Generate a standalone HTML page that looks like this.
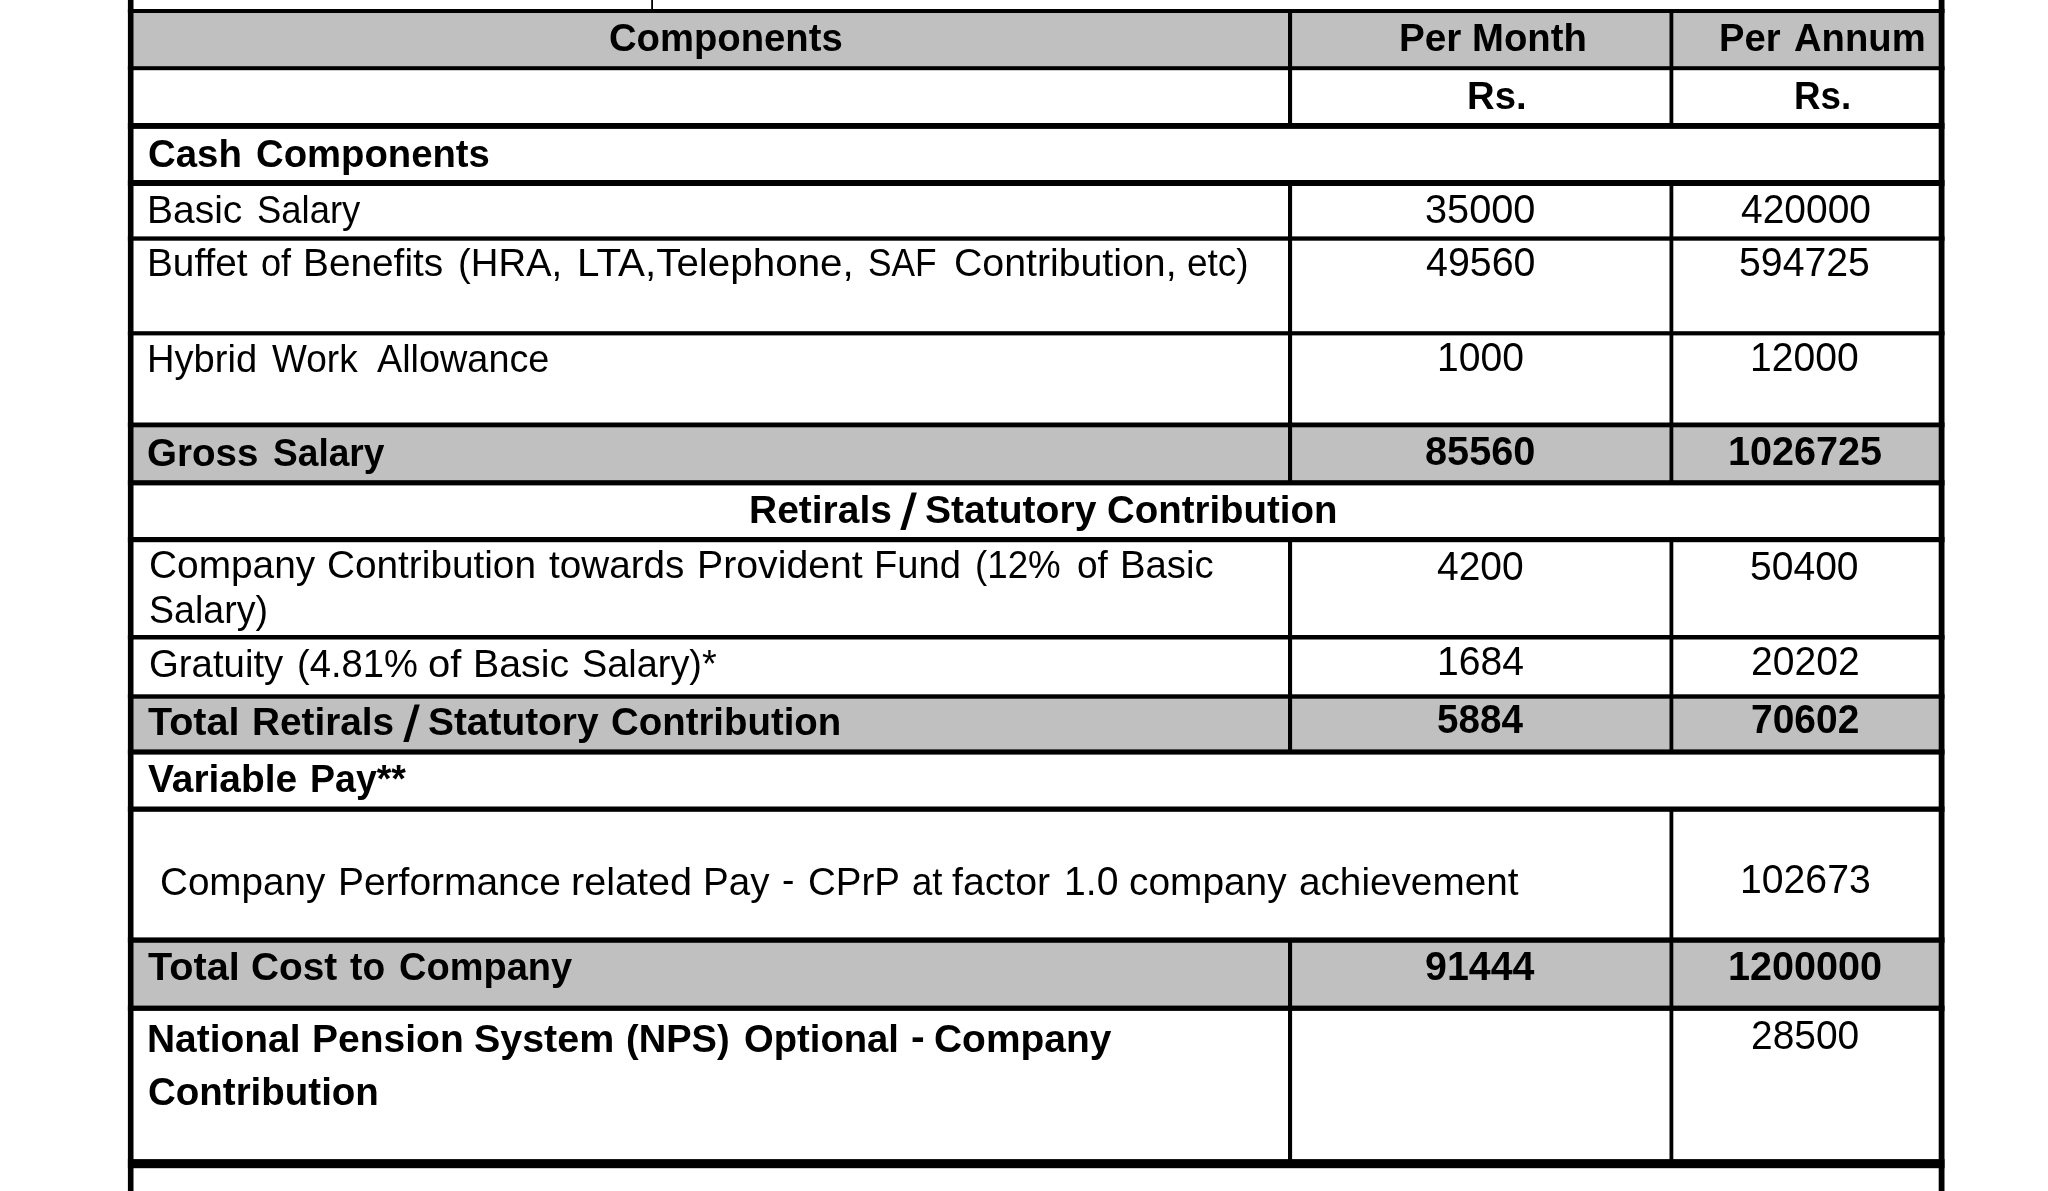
<!DOCTYPE html>
<html><head><meta charset="utf-8"><title>Salary Components</title>
<style>
html,body{margin:0;padding:0;background:#fff;}
body{width:2048px;height:1191px;position:relative;overflow:hidden;font-family:"Liberation Sans",sans-serif;color:#000;}
#page{position:absolute;left:0;top:0;width:2048px;height:1191px;background:#fff;filter:grayscale(1);}
#g{position:absolute;left:0;top:0;}
#t span{position:absolute;white-space:pre;font-size:39px;line-height:39px;height:39px;transform-origin:0 33.01px;}
#t b{font-weight:bold;}
</style></head><body>

<div id="page">
<svg id="g" width="2048" height="1191" viewBox="0 0 2048 1191">
<rect x="132.50" y="12.00" width="1807.20" height="55.00" fill="#c0c0c0"/>
<rect x="132.50" y="427.00" width="1807.20" height="54.00" fill="#c0c0c0"/>
<rect x="132.50" y="698.00" width="1807.20" height="52.00" fill="#c0c0c0"/>
<rect x="132.50" y="942.50" width="1807.20" height="63.50" fill="#c0c0c0"/>
<rect x="127.90" y="9.00" width="1816.60" height="4.00" fill="#000"/>
<rect x="127.90" y="66.20" width="1816.60" height="4.00" fill="#000"/>
<rect x="127.90" y="123.00" width="1816.60" height="5.90" fill="#000"/>
<rect x="127.90" y="180.00" width="1816.60" height="6.00" fill="#000"/>
<rect x="127.90" y="236.40" width="1816.60" height="4.30" fill="#000"/>
<rect x="127.90" y="331.20" width="1816.60" height="4.20" fill="#000"/>
<rect x="127.90" y="422.50" width="1816.60" height="4.80" fill="#000"/>
<rect x="127.90" y="480.20" width="1816.60" height="5.20" fill="#000"/>
<rect x="127.90" y="537.00" width="1816.60" height="5.20" fill="#000"/>
<rect x="127.90" y="635.00" width="1816.60" height="4.50" fill="#000"/>
<rect x="127.90" y="694.30" width="1816.60" height="4.40" fill="#000"/>
<rect x="127.90" y="749.40" width="1816.60" height="5.20" fill="#000"/>
<rect x="127.90" y="806.50" width="1816.60" height="5.30" fill="#000"/>
<rect x="127.90" y="937.40" width="1816.60" height="5.40" fill="#000"/>
<rect x="127.90" y="1005.60" width="1816.60" height="5.30" fill="#000"/>
<rect x="127.90" y="1159.10" width="1816.60" height="9.10" fill="#000"/>
<rect x="127.90" y="0.00" width="5.60" height="1191.00" fill="#000"/>
<rect x="1938.70" y="0.00" width="5.80" height="1191.00" fill="#000"/>
<rect x="651.20" y="0.00" width="1.80" height="10.00" fill="#000"/>
<rect x="1288.00" y="9.00" width="4.10" height="115.00" fill="#000"/>
<rect x="1288.00" y="184.00" width="4.10" height="298.00" fill="#000"/>
<rect x="1288.00" y="540.00" width="4.10" height="211.00" fill="#000"/>
<rect x="1288.00" y="941.00" width="4.10" height="221.00" fill="#000"/>
<rect x="1669.50" y="9.00" width="3.80" height="115.00" fill="#000"/>
<rect x="1669.50" y="184.00" width="3.80" height="298.00" fill="#000"/>
<rect x="1669.50" y="540.00" width="3.80" height="211.00" fill="#000"/>
<rect x="1669.50" y="810.00" width="3.80" height="352.00" fill="#000"/>
</svg>
<div id="t">
<span style="left:608.52px;top:18.00px;transform:scale(0.9808,1.015)"><b>Components</b></span>
<span style="left:1398.62px;top:18.00px;transform:scale(0.9917,1.015)"><b>Per</b></span>
<span style="left:1472.04px;top:18.00px;transform:scale(0.9813,1.015)"><b>Month</b></span>
<span style="left:1718.64px;top:18.00px;transform:scale(0.9785,1.015)"><b>Per</b></span>
<span style="left:1794.00px;top:18.00px;transform:scale(0.9801,1.015)"><b>Annum</b></span>
<span style="left:1466.94px;top:76.00px;transform:scale(0.9815,1.015)"><b>Rs.</b></span>
<span style="left:1793.61px;top:76.00px;transform:scale(0.9428,1.015)"><b>Rs.</b></span>
<span style="left:147.62px;top:134.00px;transform:scale(0.9844,1.015)"><b>Cash</b></span>
<span style="left:255.62px;top:134.00px;transform:scale(0.9811,1.015)"><b>Components</b></span>
<span style="left:147.10px;top:190.00px;transform:scale(0.9993,1.015)">Basic</span>
<span style="left:257.17px;top:190.00px;transform:scale(0.9342,1.015)">Salary</span>
<span style="left:1424.68px;top:190.00px;transform:scale(1.0182,1.035)">35000</span>
<span style="left:1740.50px;top:190.00px;transform:scale(0.9985,1.035)">420000</span>
<span style="left:147.22px;top:243.00px;transform:scale(0.9943,1.015)">Buffet</span>
<span style="left:260.98px;top:243.00px;transform:scale(0.9246,1.015)">of</span>
<span style="left:302.82px;top:243.00px;transform:scale(0.9948,1.015)">Benefits</span>
<span style="left:457.54px;top:243.00px;transform:scale(0.9819,1.015)">(HRA,</span>
<span style="left:576.70px;top:243.00px;transform:scale(1.0349,1.015)">LTA,Telephone,</span>
<span style="left:867.69px;top:243.00px;transform:scale(0.9051,1.015)">SAF</span>
<span style="left:954.49px;top:243.00px;transform:scale(1.0065,1.015)">Contribution,</span>
<span style="left:1186.95px;top:243.00px;transform:scale(0.9480,1.015)">etc)</span>
<span style="left:1425.70px;top:243.00px;transform:scale(1.0087,1.035)">49560</span>
<span style="left:1739.49px;top:243.00px;transform:scale(1.0062,1.035)">594725</span>
<span style="left:147.47px;top:339.00px;transform:scale(0.9777,1.015)">Hybrid</span>
<span style="left:272.40px;top:339.00px;transform:scale(0.9484,1.015)">Work</span>
<span style="left:376.80px;top:339.00px;transform:scale(0.9695,1.015)">Allowance</span>
<span style="left:1436.50px;top:338.00px;transform:scale(1.0015,1.035)">1000</span>
<span style="left:1750.00px;top:338.00px;transform:scale(1.0023,1.035)">12000</span>
<span style="left:147.31px;top:433.00px;transform:scale(0.9881,1.015)"><b>Gross</b></span>
<span style="left:273.05px;top:433.00px;transform:scale(0.9518,1.015)"><b>Salary</b></span>
<span style="left:1424.68px;top:432.00px;transform:scale(1.0182,1.035)"><b>85560</b></span>
<span style="left:1727.67px;top:432.00px;transform:scale(1.0152,1.035)"><b>1026725</b></span>
<span style="left:749.30px;top:490.00px;transform:scale(0.9987,1.015)"><b>Retirals</b></span>
<span style="left:899.93px;top:496.00px;transform-origin:0 33.01px;transform:skewX(-7.4deg) scale(1.155,1.290)"><b>/</b></span>
<span style="left:925.10px;top:490.00px;transform:scale(1.0012,1.015)"><b>Statutory</b></span>
<span style="left:1106.81px;top:490.00px;transform:scale(0.9853,1.015)"><b>Contribution</b></span>
<span style="left:149.10px;top:545.00px;transform:scale(0.9957,1.015)">Company</span>
<span style="left:327.31px;top:545.00px;transform:scale(0.9937,1.015)">Contribution</span>
<span style="left:549.30px;top:545.00px;transform:scale(0.9915,1.015)">towards</span>
<span style="left:696.98px;top:545.00px;transform:scale(1.0060,1.015)">Provident</span>
<span style="left:873.97px;top:545.00px;transform:scale(0.9774,1.015)">Fund</span>
<span style="left:974.92px;top:545.00px;transform:scale(0.9415,1.015)">(12%</span>
<span style="left:1077.35px;top:545.00px;transform:scale(0.9467,1.015)">of</span>
<span style="left:1120.35px;top:545.00px;transform:scale(0.9819,1.015)">Basic</span>
<span style="left:149.14px;top:590.00px;transform:scale(0.9631,1.015)">Salary)</span>
<span style="left:1436.70px;top:547.00px;transform:scale(0.9992,1.035)">4200</span>
<span style="left:1750.30px;top:547.00px;transform:scale(1.0013,1.035)">50400</span>
<span style="left:149.12px;top:644.00px;transform:scale(0.9835,1.015)">Gratuity</span>
<span style="left:296.54px;top:644.00px;transform:scale(0.9777,1.015)">(4.81%</span>
<span style="left:428.28px;top:644.00px;transform:scale(1.0224,1.015)">of</span>
<span style="left:473.28px;top:644.00px;transform:scale(1.0069,1.015)">Basic</span>
<span style="left:581.53px;top:644.00px;transform:scale(0.9707,1.015)">Salary)*</span>
<span style="left:1436.50px;top:642.00px;transform:scale(1.0015,1.035)">1684</span>
<span style="left:1751.00px;top:642.00px;transform:scale(1.0023,1.035)">20202</span>
<span style="left:147.90px;top:702.00px;transform:scale(1.0133,1.015)"><b>Total</b></span>
<span style="left:251.71px;top:702.00px;transform:scale(0.9937,1.015)"><b>Retirals</b></span>
<span style="left:403.03px;top:708.00px;transform-origin:0 33.01px;transform:skewX(-7.4deg) scale(1.155,1.290)"><b>/</b></span>
<span style="left:427.60px;top:702.00px;transform:scale(0.9966,1.015)"><b>Statutory</b></span>
<span style="left:611.42px;top:702.00px;transform:scale(0.9844,1.015)"><b>Contribution</b></span>
<span style="left:1436.51px;top:700.00px;transform:scale(0.9899,1.035)"><b>5884</b></span>
<span style="left:1751.30px;top:700.00px;transform:scale(0.9985,1.035)"><b>70602</b></span>
<span style="left:147.90px;top:759.00px;transform:scale(0.9966,1.015)"><b>Variable</b></span>
<span style="left:310.48px;top:759.00px;transform:scale(0.9618,1.015)"><b>Pay**</b></span>
<span style="left:159.61px;top:862.00px;transform:scale(0.9903,1.015)">Company</span>
<span style="left:337.51px;top:862.00px;transform:scale(0.9979,1.015)">Performance</span>
<span style="left:570.67px;top:862.00px;transform:scale(1.0151,1.015)">related</span>
<span style="left:703.03px;top:862.00px;transform:scale(0.9891,1.015)">Pay</span>
<span style="left:782.45px;top:860.00px;transform:scale(0.9545,1.015)">-</span>
<span style="left:808.31px;top:862.00px;transform:scale(0.9871,1.015)">CPrP</span>
<span style="left:911.77px;top:862.00px;transform:scale(0.9341,1.015)">at</span>
<span style="left:952.00px;top:862.00px;transform:scale(1.0046,1.015)">factor</span>
<span style="left:1063.79px;top:862.00px;transform:scale(1.0034,1.035)">1.0</span>
<span style="left:1129.00px;top:862.00px;transform:scale(0.9959,1.015)">company</span>
<span style="left:1299.41px;top:862.00px;transform:scale(0.9923,1.015)">achievement</span>
<span style="left:1739.89px;top:860.00px;transform:scale(1.0044,1.035)">102673</span>
<span style="left:147.90px;top:947.00px;transform:scale(1.0155,1.015)"><b>Total</b></span>
<span style="left:251.40px;top:947.00px;transform:scale(0.9956,1.015)"><b>Cost</b></span>
<span style="left:349.70px;top:947.00px;transform:scale(0.9531,1.015)"><b>to</b></span>
<span style="left:399.03px;top:947.00px;transform:scale(0.9746,1.015)"><b>Company</b></span>
<span style="left:1424.69px;top:947.00px;transform:scale(1.0087,1.035)"><b>91444</b></span>
<span style="left:1728.07px;top:947.00px;transform:scale(1.0145,1.035)"><b>1200000</b></span>
<span style="left:146.50px;top:1019.00px;transform:scale(0.9979,1.015)"><b>National</b></span>
<span style="left:311.80px;top:1019.00px;transform:scale(1.0002,1.015)"><b>Pension</b></span>
<span style="left:474.49px;top:1019.00px;transform:scale(1.0105,1.015)"><b>System</b></span>
<span style="left:625.72px;top:1019.00px;transform:scale(0.9753,1.015)"><b>(NPS)</b></span>
<span style="left:743.52px;top:1019.00px;transform:scale(0.9799,1.015)"><b>Optional</b></span>
<span style="left:910.65px;top:1017.00px;transform:scale(1.0545,1.015)"><b>-</b></span>
<span style="left:934.00px;top:1019.00px;transform:scale(0.9983,1.015)"><b>Company</b></span>
<span style="left:147.71px;top:1072.00px;transform:scale(0.9870,1.015)"><b>Contribution</b></span>
<span style="left:1751.20px;top:1016.00px;transform:scale(0.9976,1.035)">28500</span>
</div>
</div>
</body></html>
